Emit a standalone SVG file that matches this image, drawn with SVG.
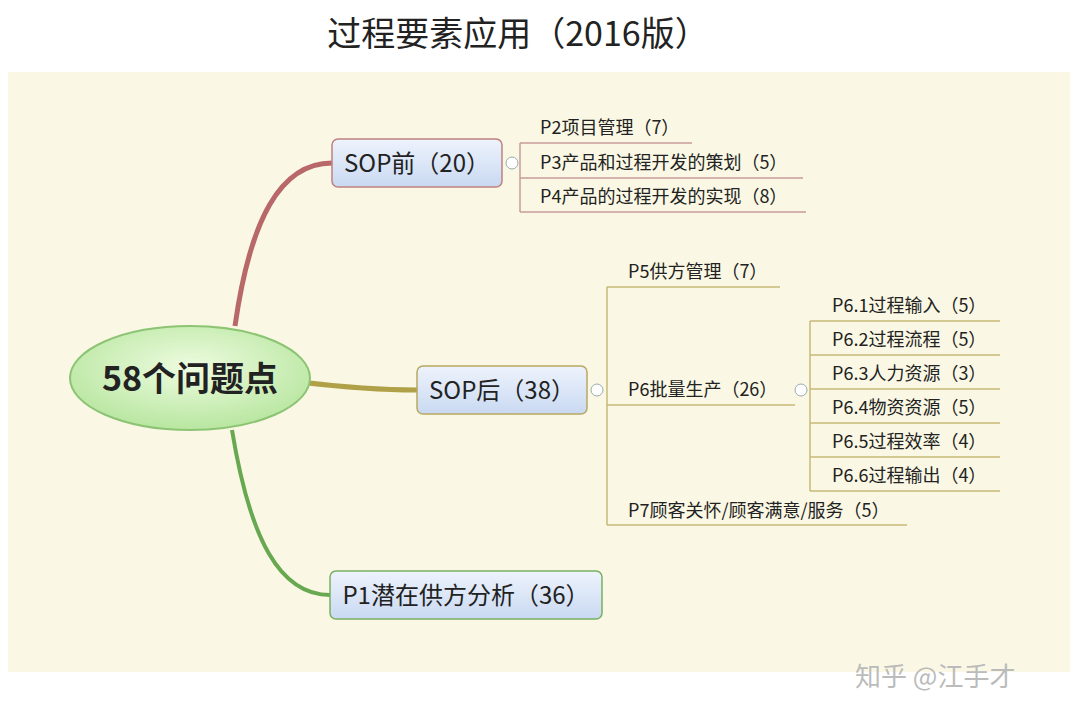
<svg xmlns="http://www.w3.org/2000/svg" width="1080" height="719" viewBox="0 0 1080 719">
<defs>
<linearGradient id="gb" x1="0" y1="0" x2="0" y2="1"><stop offset="0" stop-color="#eef3fc"/><stop offset="1" stop-color="#c9d9f2"/></linearGradient>
<radialGradient id="gg" cx="0.5" cy="0.4" r="0.6"><stop offset="0" stop-color="#eefce0"/><stop offset="1" stop-color="#b8e6a0"/></radialGradient>
<style>
text{font-family:"Noto Sans CJK SC","Noto Sans",sans-serif;fill:#222}
.n{font-size:24px}
.s{font-size:18px}
.r{fill:none;stroke:#c89a9a;stroke-width:1.5}
.o{fill:none;stroke:#c8b878;stroke-width:1.5}
.c{fill:#fff;stroke:#9aa;stroke-width:1}
</style>
</defs>
<rect width="1080" height="719" fill="#fff"/>
<text x="518" y="46" font-size="34" text-anchor="middle">过程要素应用（2016版）</text>
<rect x="8" y="72" width="1062" height="600" fill="#faf8e4"/>
<g id="connectors">
<path d="M235 326 C250 220 280 163 332 163" fill="none" stroke="#b86868" stroke-width="5"/>
<path d="M300 382 C350 388 380 390 417 390" fill="none" stroke="#b0a048" stroke-width="5"/>
<path d="M232 430 C250 540 280 595 330 595" fill="none" stroke="#68a850" stroke-width="4"/>
<path class="r" d="M520 143 V212 M520 143 H692 M520 178 H803 M520 212 H806"/>
<path class="o" d="M607 287 V525 M607 287 H780 M607 405 H795 M607 525 H907"/>
<path class="o" d="M810 321 V491 M810 321 H1000 M810 355 H1000 M810 389 H1000 M810 423 H1000 M810 457 H1000 M810 491 H1000"/>
</g>
<g id="center"><ellipse cx="190" cy="378" rx="120" ry="52" fill="url(#gg)" stroke="#8cc474" stroke-width="2"/>
<text x="190" y="391" font-size="34" font-weight="bold" text-anchor="middle">58个问题点</text></g>
<g id="sopq"><rect x="332" y="139" width="170" height="48" rx="6" fill="url(#gb)" stroke="#c08080" stroke-width="1.5"/>
<text class="n" x="417" y="172" text-anchor="middle">SOP前（20）</text><circle class="c" cx="512" cy="163" r="6"/></g>
<g id="soph"><rect x="417" y="366" width="170" height="48" rx="6" fill="url(#gb)" stroke="#b8a860" stroke-width="1.5"/>
<text class="n" x="502" y="399" text-anchor="middle">SOP后（38）</text><circle class="c" cx="597" cy="390" r="6"/></g>
<g id="p1"><rect x="330" y="571" width="272" height="48" rx="6" fill="url(#gb)" stroke="#78b060" stroke-width="1.5"/>
<text class="n" x="466" y="604" text-anchor="middle">P1潜在供方分析（36）</text></g>
<g id="p2"><text class="s" x="540" y="134">P2项目管理（7）</text></g>
<g id="p3"><text class="s" x="540" y="169">P3产品和过程开发的策划（5）</text></g>
<g id="p4"><text class="s" x="540" y="203">P4产品的过程开发的实现（8）</text></g>
<g id="p5"><text class="s" x="628" y="278">P5供方管理（7）</text></g>
<g id="p6"><text class="s" x="628" y="396">P6批量生产（26）</text><circle class="c" cx="801" cy="390" r="6"/></g>
<g id="p7"><text class="s" x="628" y="517">P7顾客关怀/顾客满意/服务（5）</text></g>
<g id="p61"><text class="s" x="832" y="312">P6.1过程输入（5）</text></g>
<g id="p62"><text class="s" x="832" y="346">P6.2过程流程（5）</text></g>
<g id="p63"><text class="s" x="832" y="380">P6.3人力资源（3）</text></g>
<g id="p64"><text class="s" x="832" y="414">P6.4物资资源（5）</text></g>
<g id="p65"><text class="s" x="832" y="448">P6.5过程效率（4）</text></g>
<g id="p66"><text class="s" x="832" y="482">P6.6过程输出（4）</text></g>
<text x="855" y="686" font-size="26" style="fill:#bbb">知乎 @江手才</text>
</svg>
